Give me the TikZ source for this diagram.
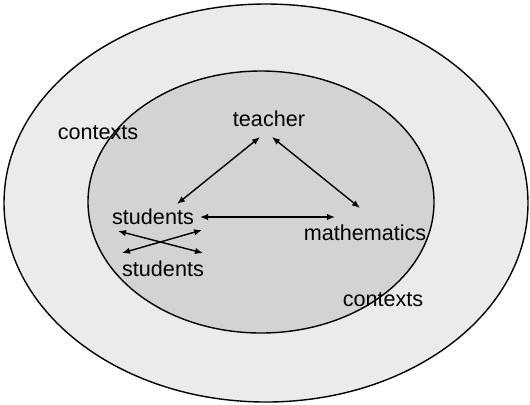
\documentclass[tikz,border=0pt]{standalone}
\usepackage{fontspec}
\setmainfont{Liberation Sans}
\usetikzlibrary{arrows.meta, positioning}
\definecolor{outergray}{HTML}{EBEBEB}
\definecolor{innergray}{HTML}{D3D3D3}

\begin{document}
\begin{tikzpicture}[x=0.5pt, y=-0.5pt,
  lbl/.style={inner sep=0pt, font=\fontsize{10.8}{13}\selectfont},
  dbl/.style={{Latex[length=4pt,width=3.2pt]}-{Latex[length=4pt,width=3.2pt]}, line width=0.7pt}]
\useasboundingbox (0,0) rectangle (530,404);
\draw[fill=outergray, line width=0.7pt] (266,203) ellipse [x radius=262, y radius=199];
\draw[fill=innergray, line width=0.7pt] (261,202) ellipse [x radius=173, y radius=131];

\node (teacher) [lbl] at (269,119) {teacher};
\node (stud) [lbl] at (153,217) {students};
\node (math) [lbl] at (365,233) {mathematics};
\node (stud2) [lbl] at (163,269) {students};
\node (ctxL) [lbl] at (98,133) {contexts};
\node (ctxR) [lbl] at (383,300) {contexts};

\draw[dbl] ([shift={(-9,18)}]teacher.center) -- ([shift={(24,-13)}]stud.center);
\draw[dbl] ([shift={(3,18)}]teacher.center) -- ([shift={(-5,-25)}]math.center);
\draw[dbl] ([shift={(47,0)}]stud.center) -- ([shift={(-30,-16)}]math.center);
\draw[dbl] ([shift={(-35,14)}]stud.center) -- ([shift={(40,-16)}]stud2.center);
\draw[dbl] ([shift={(-41,-16)}]stud2.center) -- ([shift={(49,13)}]stud.center);
\end{tikzpicture}
\end{document}
